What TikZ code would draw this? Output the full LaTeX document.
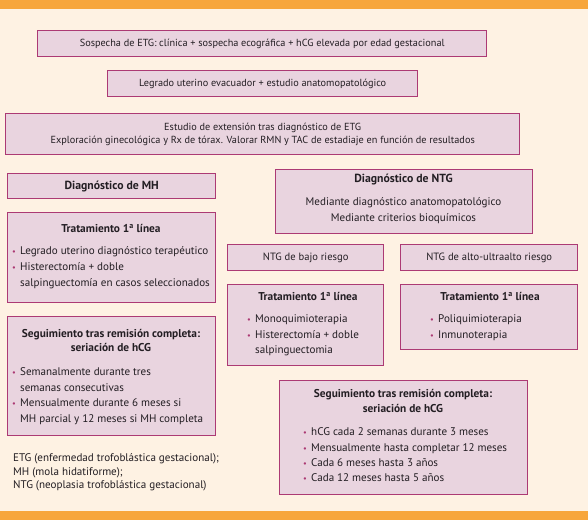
\documentclass[tikz,border=0pt]{standalone}
\usepackage{fontspec}
\setmainfont{PT Sans}
\usetikzlibrary{positioning}

\definecolor{cajafondo}{RGB}{233,212,223}
\definecolor{cajaborde}{RGB}{172,58,116}
\definecolor{crema}{RGB}{254,242,227}
\definecolor{naranja}{RGB}{247,166,60}
\definecolor{gristexto}{RGB}{35,30,35}

\newcommand{\punto}{\makebox[8bp][l]{\textcolor{cajaborde}{\scalebox{0.75}{\textbullet}}}}
\newcommand{\sangria}{\hspace*{8bp}}

\tikzset{
  caja/.style={draw=cajaborde, fill=cajafondo, line width=1.4bp, inner sep=0pt,
    anchor=north west, text=gristexto, font=\fontsize{10.3}{13}\selectfont, align=center},
  texto/.style={inner sep=0pt, text=gristexto, font=\fontsize{11.1}{13}\selectfont},
  titulo/.style={texto, font=\fontsize{11.4}{15}\selectfont\bfseries, align=center},
  lista/.style={texto, anchor=base west, align=left, font=\fontsize{11.1}{15.7}\selectfont},
}

\begin{document}
\begin{tikzpicture}[x=1bp,y=-1bp]
% fondo y barras
\fill[crema] (0,0) rectangle (588,520);
\useasboundingbox (0,0) rectangle (588,520);
\fill[naranja] (0,0) rectangle (588,9);
\fill[naranja] (0,511) rectangle (588,520);

% cajas superiores
\node[caja, minimum width=449bp, minimum height=26bp] (sospecha) at (37,30)
  {Sospecha de ETG: clínica + sospecha ecográfica + hCG elevada por edad gestacional};
\node[caja, minimum width=310bp, minimum height=26bp] (legrado) at (107,70)
  {Legrado uterino evacuador + estudio anatomopatológico};
\node[caja, minimum width=514bp, minimum height=41bp] (estudio) at (5,113)
  {Estudio de extensión tras diagnóstico de ETG\\
   Exploración ginecológica y Rx de tórax. Valorar RMN y TAC de estadiaje en función de resultados};

% rama MH
\node[caja, minimum width=208bp, minimum height=25bp, font=\fontsize{11.8}{13}\selectfont\bfseries] (mhdiag) at (7,173)
  {Diagnóstico de MH};
\node[caja, minimum width=208bp, minimum height=90bp] (mhtrat) at (7,212) {};
\node[titulo] (mhtrattit) at (111,228) {Tratamiento 1\textsuperscript{a} línea};
% la base es la de la última línea
\node[lista, font=\fontsize{11.1}{16}\selectfont] (mhtratlis) at (12,286.5)
  {\punto Legrado uterino diagnóstico terapéutico\\
   \punto Histerectomía + doble\\
   \sangria salpinguectomía en casos seleccionados};
\node[caja, minimum width=208bp, minimum height=119bp] (mhseg) at (7,316) {};
\node[titulo] (mhsegtit) at (111,340.5) {Seguimiento tras remisión completa:\\seriación de hCG};
\node[lista] (mhseglis) at (12,422.5)
  {\punto Semanalmente durante tres\\
   \sangria semanas consecutivas\\
   \punto Mensualmente durante 6 meses si\\
   \sangria MH parcial y 12 meses si MH completa};

% rama NTG
\node[caja, minimum width=257bp, minimum height=64bp] (ntgdiag) at (275,169) {};
\node[titulo, font=\fontsize{11.8}{15}\selectfont\bfseries] (ntgdiagtit) at (403.5,180) {Diagnóstico de NTG};
\node[texto, align=center, font=\fontsize{11.1}{16}\selectfont] (ntgdiagtxt) at (403.5,211)
  {Mediante diagnóstico anatomopatológico\\Mediante criterios bioquímicos};
\node[caja, minimum width=156bp, minimum height=26bp, font=\fontsize{10.6}{13}\selectfont] (ntgbajo) at (227,244) {NTG de bajo riesgo};
\node[caja, minimum width=177bp, minimum height=26bp, font=\fontsize{10.6}{13}\selectfont] (ntgalto) at (400,244) {NTG de alto-ultraalto riesgo};

\node[caja, minimum width=156bp, minimum height=81bp] (bajotrat) at (227,284) {};
\node[titulo] (bajotrattit) at (308,296) {Tratamiento 1\textsuperscript{a} línea};
\node[lista, font=\fontsize{11.1}{15.5}\selectfont] (bajotratlis) at (247,353.5)
  {\punto Monoquimioterapia\\
   \punto Histerectomía + doble\\
   \sangria salpinguectomia};
\node[caja, minimum width=177bp, minimum height=65bp] (altotrat) at (400,284) {};
\node[titulo] (altotrattit) at (490,296) {Tratamiento 1\textsuperscript{a} línea};
\node[lista, font=\fontsize{11.1}{16}\selectfont] (altotratlis) at (430,338.5)
  {\punto Poliquimioterapia\\
   \punto Inmunoterapia};

\node[caja, minimum width=248bp, minimum height=114bp] (ntgseg) at (279,380) {};
\node[titulo] (ntgsegtit) at (403,401) {Seguimiento tras remisión completa:\\seriación de hCG};
\node[lista, font=\fontsize{11.1}{15.3}\selectfont] (ntgseglis) at (303,481.5)
  {\punto hCG cada 2 semanas durante 3 meses\\
   \punto Mensualmente hasta completar 12 meses\\
   \punto Cada 6 meses hasta 3 años\\
   \punto Cada 12 meses hasta 5 años};

% leyenda
\node[texto, anchor=base west, align=left, font=\fontsize{11.1}{13.5}\selectfont] (leyenda) at (13,488.5)
  {ETG (enfermedad trofoblástica gestacional);\\
   MH (mola hidatiforme);\\
   NTG (neoplasia trofoblástica gestacional)};
\end{tikzpicture}
\end{document}
